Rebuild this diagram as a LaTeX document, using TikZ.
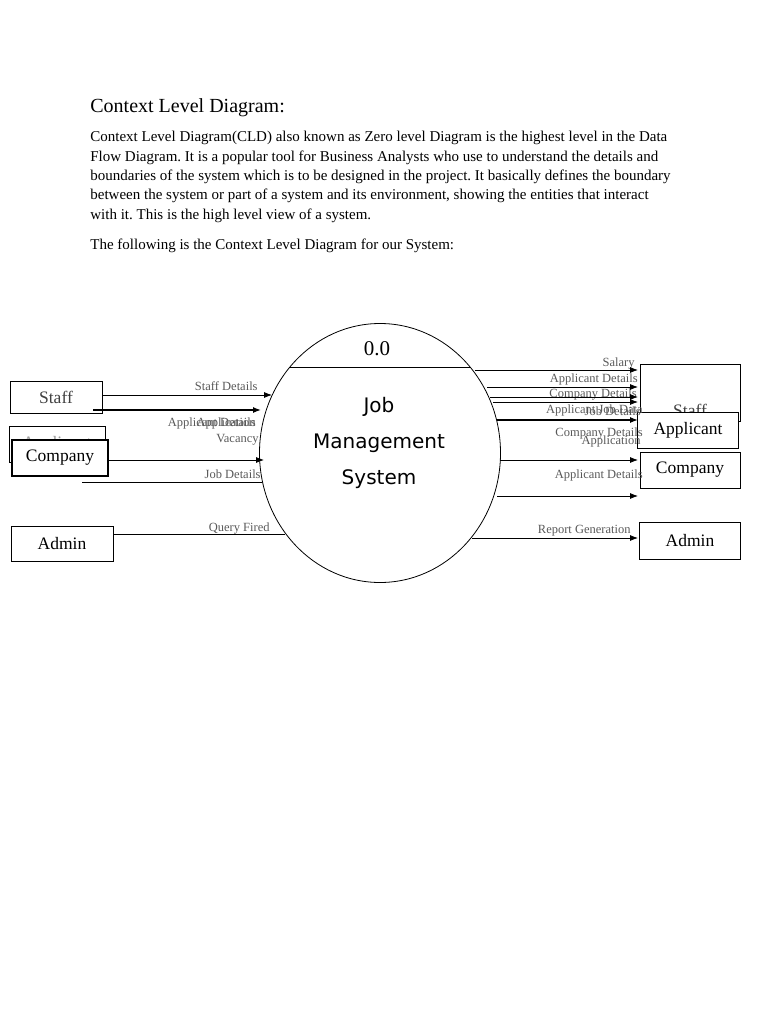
\documentclass[tikz,border=0pt]{standalone}
\usepackage{fontspec}
\setmainfont{Liberation Serif}
\newfontfamily\sysfont{DejaVu Sans}
\usetikzlibrary{arrows.meta,shapes.geometric}
\frenchspacing
\begin{document}
\begin{tikzpicture}
  [x=1pt,y=-1pt,line width=0.8pt,>={Latex[length=8pt,width=6pt]},
   entity/.style={draw,fill=white,inner sep=0pt,line width=1pt,font=\fontsize{17.5}{20}\selectfont},
   flow/.style={font=\fontsize{12.5}{14}\selectfont,text=black!65,inner sep=0pt,anchor=base east}] % pixel grid, y runs down

  \useasboundingbox (0,0) rectangle (768,1024);

  % heading and text
  \node[anchor=base west,inner sep=0pt,font=\fontsize{20}{24}\selectfont] (title) at (90,113) {Context Level Diagram:};
  \node[anchor=north west,inner sep=0pt,align=left,font=\fontsize{15}{19.3}\selectfont] (intro) at (90,131)
    {Context Level Diagram(CLD) also known as Zero level Diagram is the highest level in the Data\\
     Flow Diagram. It is a popular tool for Business Analysts who use to understand the details and\\
     boundaries of the system which is to be designed in the project. It basically defines the boundary\\
     between the system or part of a system and its environment, showing the entities that interact\\
     with it. This is the high level view of a system.};
  \node[anchor=base west,inner sep=0pt,font=\fontsize{15}{19.3}\selectfont] (follow) at (90,249) {The following is the Context Level Diagram for our System:};

  % the system
  \node[draw,ellipse,minimum width=241pt,minimum height=259pt,inner sep=0pt] (sys) at (380,453) {};
  \coordinate (chw) at (290,367);
  \coordinate (che) at (470,367);
  \draw (chw) -- (che);
  \node[font=\fontsize{21}{24}\selectfont] (num) at (377,349) {0.0};
  \node[font=\sysfont\fontsize{20}{36}\selectfont,align=center] (systxt) at (379,443) {Job\\Management\\System};

  % entities, left
  \node[entity,minimum width=92pt,minimum height=32pt,text=black!75] (lstaff) at (56,397) {Staff};
  \node[entity,minimum width=96pt,minimum height=36pt,text=black!40] (lappl) at (57,444) {Applicant};
  \node[entity,minimum width=96pt,minimum height=36pt,line width=1.8pt] (lcomp) at (60,458) {Company};
  \node[entity,minimum width=102pt,minimum height=35pt] (ladmin) at (62,544) {Admin};

  % entities, right
  \node[entity,minimum width=100pt,minimum height=57pt] (rstaff) at (690,393) {};
  \draw[line width=1.8pt] (rstaff.north east) -- (rstaff.south east);
  \node[inner sep=0pt,font=\fontsize{17.5}{20}\selectfont,text=black!75] (rstafftxt) at (690,410) {Staff};
  \node[entity,minimum width=101pt,minimum height=36pt] (rappl) at (688,430) {Applicant};
  \node[entity,minimum width=100pt,minimum height=36pt] (rcomp) at (690,470) {Company};
  \node[entity,minimum width=101pt,minimum height=37pt] (radmin) at (690,541) {Admin};

  % flow ends, left
  \coordinate (l1) at (272,395);
  \coordinate (l2a) at (93,410);
  \coordinate (l2b) at (261,410);
  \coordinate (l3) at (264,460);
  \coordinate (l4a) at (82,482);
  \coordinate (l4b) at (262,482);
  \coordinate (l5) at (285,534);

  \draw [->] (lstaff.east |- l1) -- (l1);
  \draw [->,line width=1.3pt] (l2a) -- (l2b);
  \draw [->] (lcomp.east |- l3) -- (l3);
  \draw (l4a) -- (l4b);
  \draw (ladmin.east |- l5) -- (l5);

  \node[flow] (f1) at (258,390) {Staff Details};
  \node[flow] (f2) at (256,426) {Applicant Details};
  \node[flow] (f3) at (256,426) {Application};
  \node[flow] (f4) at (259,442) {Vacancy};
  \node[flow] (f5) at (261,478) {Job Details};
  \node[flow] (f6) at (270,531) {Query Fired};

  % flow ends, right
  \coordinate (r1) at (475,370);
  \coordinate (r2) at (487,387);
  \coordinate (r3) at (490,397);
  \coordinate (r4) at (493,402);
  \coordinate (r5) at (497,420);
  \coordinate (r6) at (500,460);
  \coordinate (r7) at (497,496);
  \coordinate (r8) at (472,538);
  \coordinate (e1) at (638,370);
  \coordinate (e2) at (638,387);
  \coordinate (e3) at (638,397);
  \coordinate (e4) at (638,402);
  \coordinate (e5) at (638,420);
  \coordinate (e6) at (638,460);
  \coordinate (e7) at (638,496);
  \coordinate (e8) at (638,538);

  \node[flow] (g1) at (635,366) {Salary};
  \node[flow] (g2) at (638,382) {Applicant Details};
  \node[flow] (g3) at (637,397) {Company Details};
  \node[flow] (g4) at (643,413) {Applicant Job Data};
  \node[flow] (g5) at (641,415) {Job Details};
  \node[flow] (g6) at (643,436) {Company Details};
  \node[flow] (g7) at (641,444) {Application};
  \node[flow] (g8) at (643,478) {Applicant Details};
  \node[flow] (g9) at (631,533) {Report Generation};

  \draw [->] (r1) -- (e1);
  \draw [->] (r2) -- (e2);
  \draw [->] (r3) -- (e3);
  \draw [->] (r4) -- (e4);
  \draw [->,line width=1.3pt] (r5) -- (e5);
  \draw [->] (r6) -- (e6);
  \draw [->] (r7) -- (e7);
  \draw [->] (r8) -- (e8);

\end{tikzpicture}
\end{document}
